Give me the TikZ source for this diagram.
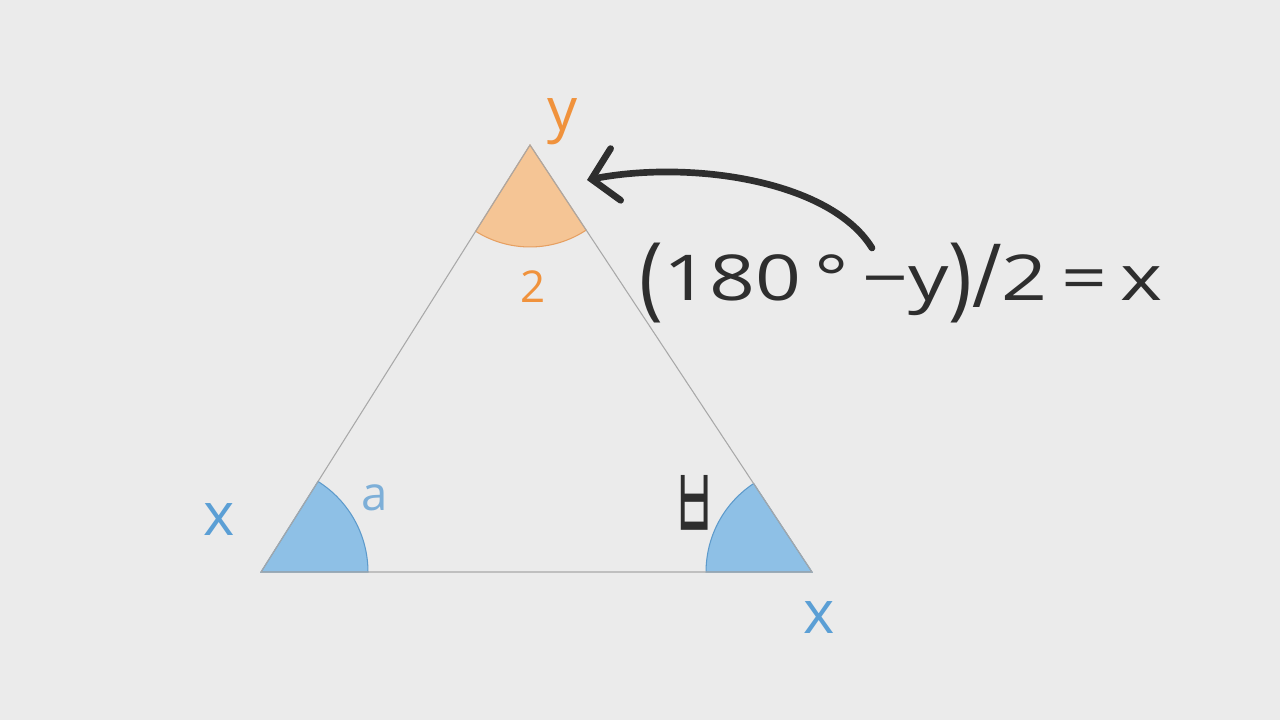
\documentclass[tikz,border=0pt]{standalone}
\usepackage{fontspec}
\setmainfont{Open Sans}
\newfontfamily\krfont{Noto Sans CJK KR}
\usetikzlibrary{calc}
\usetikzlibrary{positioning}
\usetikzlibrary{arrows.meta}
\definecolor{bgcol}{HTML}{EBEBEB}
\definecolor{orfill}{HTML}{F5C595}
\definecolor{orline}{HTML}{E6A062}
\definecolor{ortext}{HTML}{F0923C}
\definecolor{blfill}{HTML}{8EC0E6}
\definecolor{blline}{HTML}{5D9ACB}
\definecolor{bltext}{HTML}{5B9FD5}
\definecolor{bllight}{HTML}{7DAFD8}
\definecolor{sidecol}{HTML}{A8A8A8}
\definecolor{darkcol}{HTML}{2E2E2E}

\begin{document}
\begin{tikzpicture}[x=0.02cm,y=0.02cm,
	side/.style={draw=sidecol,line width=0.6pt},
	bluewedge/.style={fill=blfill,draw=blline,line width=0.6pt},
	orangewedge/.style={fill=orfill,draw=orline,line width=0.6pt},
	varlabel/.style={inner sep=0pt,font=\fontsize{34}{34}\selectfont}]
	\fill[bgcol] (0,0) rectangle (1280,720);
	\useasboundingbox (0,0) rectangle (1280,720);
	\coordinate (A) at (261,148);
	\coordinate (B) at (812,148);
	\coordinate (C) at (530,575);
	\coordinate (S) at (872,472);
	
	% angle wedges
	\filldraw[bluewedge] (A) -- ++(0:2.14cm) arc[start angle=0,end angle=57.8,radius=2.14cm] -- cycle;
	\filldraw[bluewedge] (B) -- ++(180:2.12cm) arc[start angle=180,end angle=123.4,radius=2.12cm] -- cycle;
	\filldraw[orangewedge] (C) -- ++(237.8:2.04cm) arc[start angle=237.8,end angle=303.4,radius=2.04cm] -- cycle;
	
	% sides
	\draw[side] (A) -- (B) -- (C) -- cycle;
	
	\node[varlabel,text=ortext] (ytop) at (563,598) {y};
	\node[varlabel,text=bltext] (xleft) at (219,200) {x};
	\node[varlabel,text=bltext] (xright) at (819,102) {x};
	\node[inner sep=0pt,text=ortext,font=\fontsize{25}{25}\selectfont] (two) at (533,433) {2};
	\node[inner sep=0pt,text=bllight,font=\fontsize{27}{27}\selectfont] (aleft) at (375,222) {a};
	\node[inner sep=0pt,text=darkcol,font=\krfont\fontsize{40}{40}\selectfont] (bieup) at (694,210) {\scalebox{0.68}[1.6]{ㅂ}};
	
	\node[inner sep=0pt,text=darkcol,font=\fontsize{36}{36}\selectfont] (formula) at (901,437)
		{\scalebox{1.27}[1]{\raisebox{-0.12em}{\scalebox{1}[1.45]{(}}180\,°\,−y\raisebox{-0.12em}{\scalebox{1}[1.45]{)}}\raisebox{-0.1em}{\scalebox{1}[1.4]{/}}2\,=\,x}};
	
	\draw[darkcol,line width=3.8pt,line cap=round,-{Straight Barb[length=14pt,width=30pt,line cap=round]}]
		(S) .. controls (830,540) and (690,560) .. (587,540);
\end{tikzpicture}
\end{document}
